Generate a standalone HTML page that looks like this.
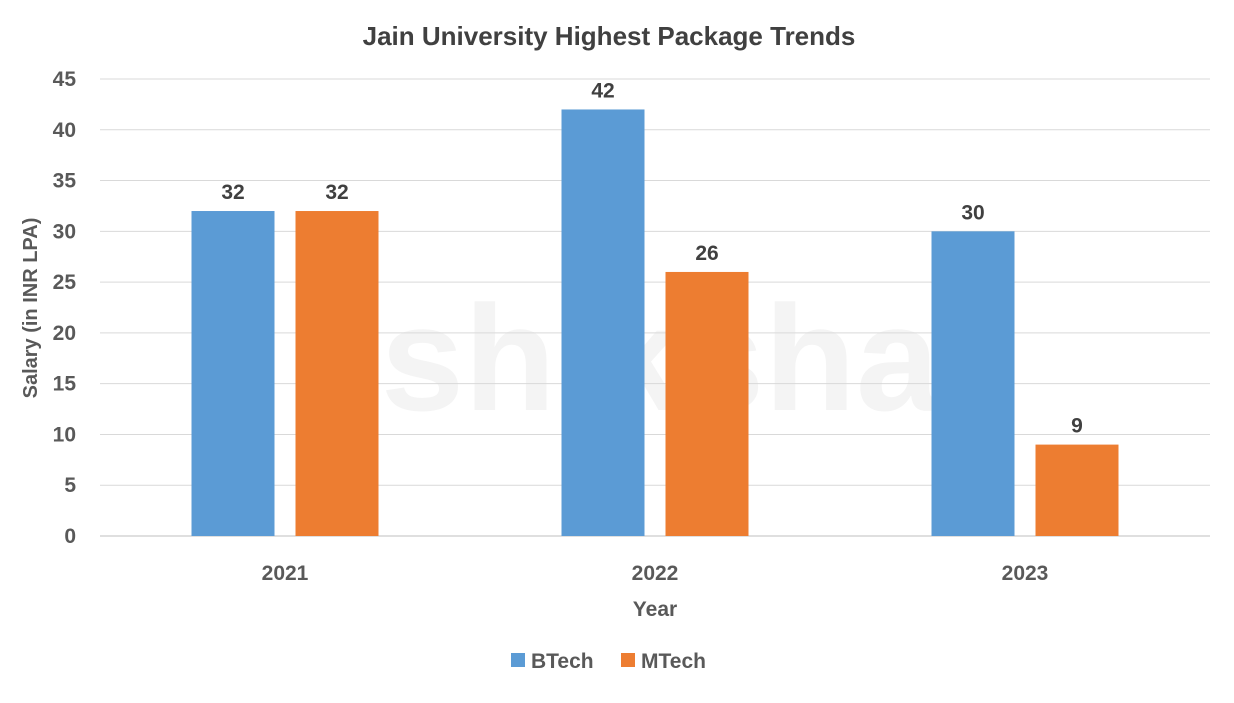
<!DOCTYPE html>
<html><head><meta charset="utf-8"><style>
html,body{margin:0;padding:0;background:#fff;}
svg{display:block;font-family:"Liberation Sans",sans-serif;}
</style></head><body>
<svg id="chart" width="1234" height="703">
<text x="609" y="45" text-anchor="middle" font-size="26" font-weight="bold" fill="#404040">Jain University Highest Package Trends</text>
<text x="660" y="410" text-anchor="middle" font-size="150" font-weight="bold" fill="#000" opacity="0.04">shiksha</text>
<g id="grid"></g><g id="bars"></g><g id="labels"></g>
<text transform="translate(37,308) rotate(-90)" text-anchor="middle" font-size="20" font-weight="bold" fill="#595959">Salary (in INR LPA)</text>
<text x="655" y="616" text-anchor="middle" font-size="21" font-weight="bold" fill="#595959">Year</text>
<g>
<rect x="511" y="653" width="14" height="14" fill="#5B9BD5"/>
<text x="531" y="668" font-size="21" font-weight="bold" fill="#595959">BTech</text>
<rect x="621" y="653" width="14" height="14" fill="#ED7D31"/>
<text x="641" y="668" font-size="21" font-weight="bold" fill="#595959">MTech</text>
</g>
</svg>
<script>
const categories = ["2021","2022","2023"];
const btech = [32,42,30];
const mtech = [32,26,9];
const yTicks = [0,5,10,15,20,25,30,35,40,45];
const NS="http://www.w3.org/2000/svg";
const x0=100,x1=1210,y0=536,yTop=79,yMax=45;
function yS(v){return y0-(v/yMax)*(y0-yTop);}
function xC(i){return x0+(x1-x0)/categories.length*(i+0.5);}
function mk(t,a,p){const e=document.createElementNS(NS,t);for(const k in a)e.setAttribute(k,a[k]);p.appendChild(e);return e;}
const grid=document.getElementById('grid'),bars=document.getElementById('bars'),labels=document.getElementById('labels');
yTicks.forEach(v=>{
  const l=mk('line',{x1:x0,x2:x1,y1:yS(v),y2:yS(v),stroke:v===0?'#bfbfbf':'#d9d9d9','stroke-width':1},grid);
  
  
  const t=mk('text',{x:76,y:yS(v)+7,'text-anchor':'end','font-size':21,'font-weight':'bold',fill:'#595959'},labels);
  t.textContent=v;
  
  
});
const bw=83,off=52;
categories.forEach((c,i)=>{
  const cx=xC(i);
  [[btech,'#5B9BD5',-off,'btech'],[mtech,'#ED7D31',off,'mtech']].forEach(([arr,col,o,n])=>{
    const v=arr[i];
    const r=mk('rect',{x:cx+o-bw/2,y:yS(v),width:bw,height:y0-yS(v),fill:col},bars);
    
    
    const t=mk('text',{x:cx+o,y:yS(v)-12,'text-anchor':'middle','font-size':21,'font-weight':'bold',fill:'#404040'},labels);
    t.textContent=v;
    
    
  });
  const t=mk('text',{x:cx,y:580,'text-anchor':'middle','font-size':21,'font-weight':'bold',fill:'#595959'},labels);
  t.textContent=c;
  
  
});
</script>
</body></html>
